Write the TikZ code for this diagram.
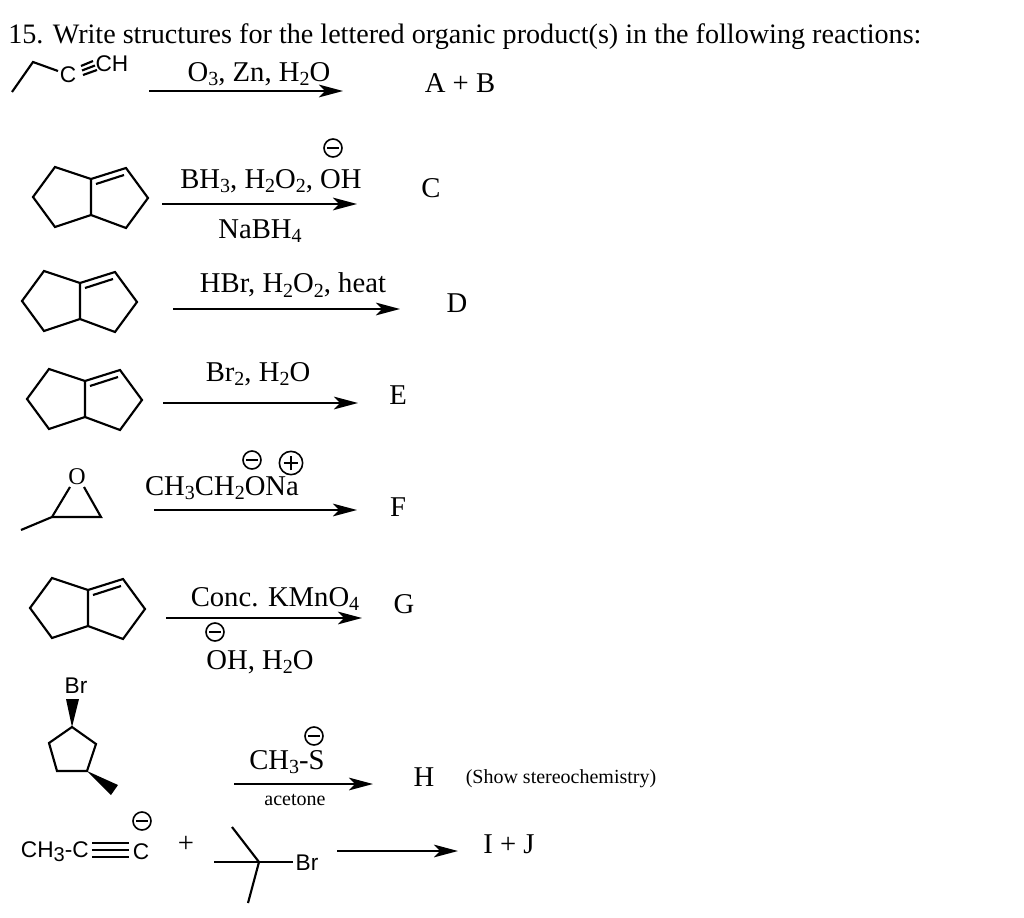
\documentclass[tikz,border=0pt]{standalone}
\usepackage{fontspec}
\setmainfont{Liberation Serif}
\newfontfamily\chemfont{Liberation Sans}
\usetikzlibrary{arrows.meta}
\newcommand{\subnum}[1]{\raisebox{-0.36ex}{\fontsize{15}{15}\selectfont #1}}
\tikzset{
	bond/.style={line width=1.6pt, line join=miter},
	rxn/.style={line width=1.6pt, -{Stealth[length=18pt, width=9.5pt, inset=4.5pt]}},
	reagent/.style={inner sep=0pt, font=\fontsize{21.5}{21.5}\selectfont},
	small/.style={inner sep=0pt, font=\fontsize{15}{15}\selectfont},
	atom/.style={inner sep=0pt, font=\chemfont\fontsize{17}{17}\selectfont},
	chg/.style={circle, draw, line width=1.2pt, minimum size=13.5pt, inner sep=0pt},
	chgbig/.style={circle, draw, line width=1.2pt, minimum size=17.5pt, inner sep=0pt},
	bicyc/.pic={
		\draw[bond] (0, 0) -- (0, 36) -- (-36, 48) -- (-58, 18) -- (-36, -12) -- cycle;
		\draw[bond] (0, 0) -- (35, -11) -- (57, 19) -- (35, 49) -- (0, 36);
		\draw[bond] (5, 5) -- (33, -4);
	}
}
\newcommand{\minuschg}[2]{\node[chg] (#1) at (#2) {}; \draw[line width=1.2pt] ([xshift=-4.5pt]#1.center) -- ([xshift=4.5pt]#1.center);}
\begin{document}
\begin{tikzpicture}[x=0.75pt, y=-0.75pt]
	\useasboundingbox (0, 0) rectangle (1024, 917);
	\node[anchor=west, inner sep=0pt, font=\fontsize{21.1}{21.1}\selectfont] (title) at (8, 37) {15. Write structures for the lettered organic product(s) in the following reactions:};
	% propyne
	\draw[bond] (12, 92) -- (33, 62) -- (58, 71);
	\node[atom] (cone) at (68, 75) {C};
	\node[atom] (chone) at (112, 64) {CH};
	\draw[bond] (81, 66) -- (93, 61);
	\draw[bond] (82, 70.5) -- (95, 65.5);
	\draw[bond] (83, 75) -- (97, 70);
	\coordinate (aonea) at (149, 91);
	\coordinate (aoneb) at (343, 91);
	\draw[rxn] (aonea) -- (aoneb);
	\node[reagent] (rone) at (259, 74) {O\subnum{3}, Zn, H\subnum{2}O};
	\node[reagent] (pab) at (460, 83) {A + B};
	% hydroboration
	\pic at (91, 179) {bicyc};
	\coordinate (atwoa) at (162, 204);
	\coordinate (atwob) at (357, 204);
	\draw[rxn] (atwoa) -- (atwob);
	\node[reagent] (rtwo) at (271, 181) {BH\subnum{3}, H\subnum{2}O\subnum{2}, OH};
	\minuschg{ctwo}{333, 148}
	\node[reagent] (rtwob) at (260, 231) {NaBH\subnum{4}};
	\node[reagent] (pc) at (431, 188) {C};
	% hbr
	\pic at (80, 283) {bicyc};
	\coordinate (athreea) at (173, 309);
	\coordinate (athreeb) at (400, 309);
	\draw[rxn] (athreea) -- (athreeb);
	\node[reagent] (rthree) at (293, 285) {HBr, H\subnum{2}O\subnum{2}, heat};
	\node[reagent] (pd) at (457, 303) {D};
	% bromine water
	\pic at (85, 381) {bicyc};
	\coordinate (afoura) at (163, 403);
	\coordinate (afourb) at (358, 403);
	\draw[rxn] (afoura) -- (afourb);
	\node[reagent] (rfour) at (258, 374) {Br\subnum{2}, H\subnum{2}O};
	\node[reagent] (pe) at (398, 395) {E};
	% epoxide
	\node[reagent, font=\fontsize{18}{18}\selectfont] (oxy) at (77, 477) {O};
	\draw[bond] (21, 530) -- (52, 517) -- (70, 487);
	\draw[bond] (52, 517) -- (101, 517) -- (84, 487);
	\coordinate (afivea) at (154, 510);
	\coordinate (afiveb) at (357, 510);
	\draw[rxn] (afivea) -- (afiveb);
	\node[reagent] (rfive) at (222, 488) {CH\subnum{3}CH\subnum{2}ONa};
	\minuschg{cfive}{252, 460}
	\node[chgbig] (pfive) at (291, 463) {};
	\draw[line width=1.2pt] ([xshift=-5.5pt]pfive.center) -- ([xshift=5.5pt]pfive.center);
	\draw[line width=1.2pt] ([yshift=-5.5pt]pfive.center) -- ([yshift=5.5pt]pfive.center);
	\node[reagent] (pf) at (398, 507) {F};
	% permanganate
	\pic at (88, 590) {bicyc};
	\coordinate (asixa) at (166, 618);
	\coordinate (asixb) at (362, 618);
	\draw[rxn] (asixa) -- (asixb);
	\node[reagent] (rsix) at (275, 599) {Conc. KMnO\subnum{4}};
	\minuschg{csix}{215, 632}
	\node[reagent] (rsixb) at (260, 662) {OH, H\subnum{2}O};
	\node[reagent] (pg) at (404, 604) {G};
	% bromide
	\node[atom] (brone) at (76, 686) {Br};
	\draw[bond] (72, 727) -- (96, 744) -- (87, 771) -- (57, 771) -- (49, 743) -- cycle;
	\fill (72, 727) -- (66, 699) -- (79, 699) -- cycle;
	\fill (87, 771) -- (118, 785) -- (111, 795) -- cycle;
	\coordinate (asevena) at (234, 784);
	\coordinate (asevenb) at (373, 784);
	\draw[rxn] (asevena) -- (asevenb);
	\node[reagent] (rseven) at (287, 762) {CH\subnum{3}-S};
	\minuschg{cseven}{314, 736}
	\node[small] (rsevenb) at (295, 800) {acetone};
	\node[reagent] (ph) at (424, 777) {H};
	\node[small] (pnote) at (561, 779) {(Show stereochemistry)};
	% alkylation
	\node[atom, anchor=east] (pme) at (89, 852) {CH\subnum{3}-C};
	\node[atom] (cend) at (141, 852) {C};
	\draw[bond] (92, 843) -- (129, 843);
	\draw[bond] (92, 850) -- (129, 850);
	\draw[bond] (92, 857) -- (129, 857);
	\minuschg{ceight}{142, 821}
	\node[reagent] (plus) at (186, 844) {+};
	\node[atom] (brtwo) at (307, 863) {Br};
	\draw[bond] (232, 827) -- (259, 862) -- (248, 903);
	\draw[bond] (214, 862) -- (293, 862);
	\coordinate (aeighta) at (337, 851);
	\coordinate (aeightb) at (458, 851);
	\draw[rxn] (aeighta) -- (aeightb);
	\node[reagent] (pij) at (509, 844) {I + J};
\end{tikzpicture}
\end{document}
